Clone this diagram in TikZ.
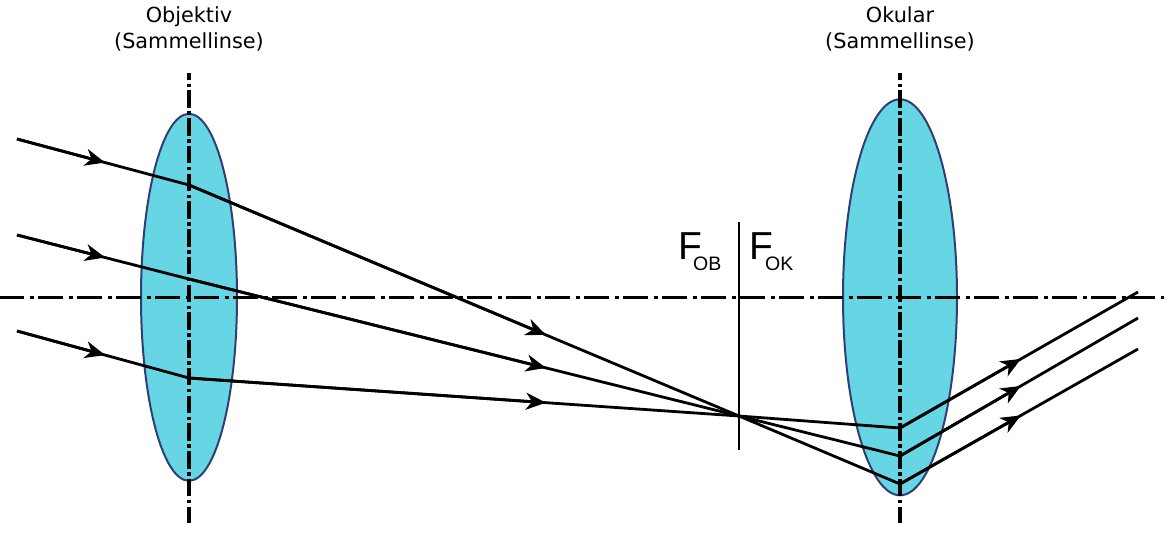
\documentclass[tikz,border=0pt]{standalone}
\usepackage{fontspec}
\setmainfont{DejaVu Sans}
\newfontfamily\labelfont{Liberation Sans}
\usetikzlibrary{shapes.geometric, arrows.meta, calc}
\definecolor{lensfill}{HTML}{66D6E4}
\definecolor{lensline}{HTML}{2E3F73}
\newcommand{\subtext}[1]{\raisebox{-11pt}{\fontsize{19.5}{20}\selectfont #1}}
\begin{document}
\begin{tikzpicture}[x = 1pt, y = -1pt,
                    lens node/.style = {draw = lensline, fill = lensfill, ellipse, line width = 2pt, inner sep = 0pt},
                    title node/.style = {align = center, font = \fontsize{20.8}{25.5}\selectfont},
                    focus node/.style = {anchor = base west, font = \labelfont\fontsize{39}{39}\selectfont, inner sep = 0pt},
                    long axis/.style = {line width = 3pt, dash pattern = on 25pt off 6pt on 4pt off 4pt, dash phase = 1.3pt},
                    lens axis/.style = {line width = 3.4pt, dash pattern = on 17.3pt off 3.5pt on 3.5pt off 3.45pt, dash phase = 10.3pt},
                    ray/.style = {line width = 2.8pt, line join = round},
                    ray tip/.style = {ray, -{Stealth[length = 20pt, width = 17pt, inset = 6pt]}}]
                    \useasboundingbox (0, 0) rectangle (1172, 539);

                    \node at (189, 297.3) [lens node, minimum width = 96pt, minimum height = 367pt] (objektiv) {};
                    \node at (900, 297.3) [lens node, minimum width = 114pt, minimum height = 396pt] (okular) {};

                    \node at (189, 29) [title node] (objektivtitle) {Objektiv\\(Sammellinse)};
                    \node at (900, 29) [title node] (okulartitle) {Okular\\(Sammellinse)};

                    \node at (677.8, 259) [focus node] (fob) {F\kern-8.6pt\subtext{OB}};
                    \node at (748.9, 259) [focus node] (fok) {F\kern-7.7pt\subtext{OK}};

                    \coordinate (axisleft) at (0, 297);
                    \coordinate (axisright) at (1164, 297);
                    \coordinate (objektivtop) at (189, 73);
                    \coordinate (objektivbottom) at (189, 523);
                    \coordinate (okulartop) at (900, 73);
                    \coordinate (okularbottom) at (900, 523);
                    \coordinate (focustop) at (739, 222);
                    \coordinate (focusbottom) at (739, 450);
                    \coordinate (focus) at (739, 416);

                    \coordinate (start1) at (17, 139);
                    \coordinate (start2) at (17, 235);
                    \coordinate (start3) at (17, 331);
                    \coordinate (bend1) at (189, 185);
                    \coordinate (bend2) at (189, 279);
                    \coordinate (bend3) at (189, 378);
                    \coordinate (back1) at (900, 428);
                    \coordinate (back2) at (900, 456);
                    \coordinate (back3) at (900, 484);
                    \coordinate (end1) at (1138, 292);
                    \coordinate (end2) at (1138, 318);
                    \coordinate (end3) at (1138, 349);

                    \draw [long axis] (axisleft) -- (axisright);
                    \draw [lens axis] (objektivtop) -- (objektivbottom);
                    \draw [lens axis] (okulartop) -- (okularbottom);
                    \draw [ray] (focustop) -- (focusbottom);

                    \draw [ray] (start1) -- (bend1) -- (focus) -- (back3) -- (end3);
                    \draw [ray] (start2) -- (bend2) -- (focus) -- (back2) -- (end2);
                    \draw [ray] (start3) -- (bend3) -- (focus) -- (back1) -- (end1);

                    \draw [ray tip] (start1) -- ($(start1)!0.512!(bend1)$);
                    \draw [ray tip] (start2) -- ($(start2)!0.512!(bend2)$);
                    \draw [ray tip] (start3) -- ($(start3)!0.512!(bend3)$);
                    \draw [ray tip] (bend1) -- ($(bend1)!0.649!(focus)$);
                    \draw [ray tip] (bend2) -- ($(bend2)!0.649!(focus)$);
                    \draw [ray tip] (bend3) -- ($(bend3)!0.649!(focus)$);
                    \draw [ray tip] (back1) -- ($(back1)!0.508!(end1)$);
                    \draw [ray tip] (back2) -- ($(back2)!0.508!(end2)$);
                    \draw [ray tip] (back3) -- ($(back3)!0.508!(end3)$);
                \end{tikzpicture}
\end{document}
